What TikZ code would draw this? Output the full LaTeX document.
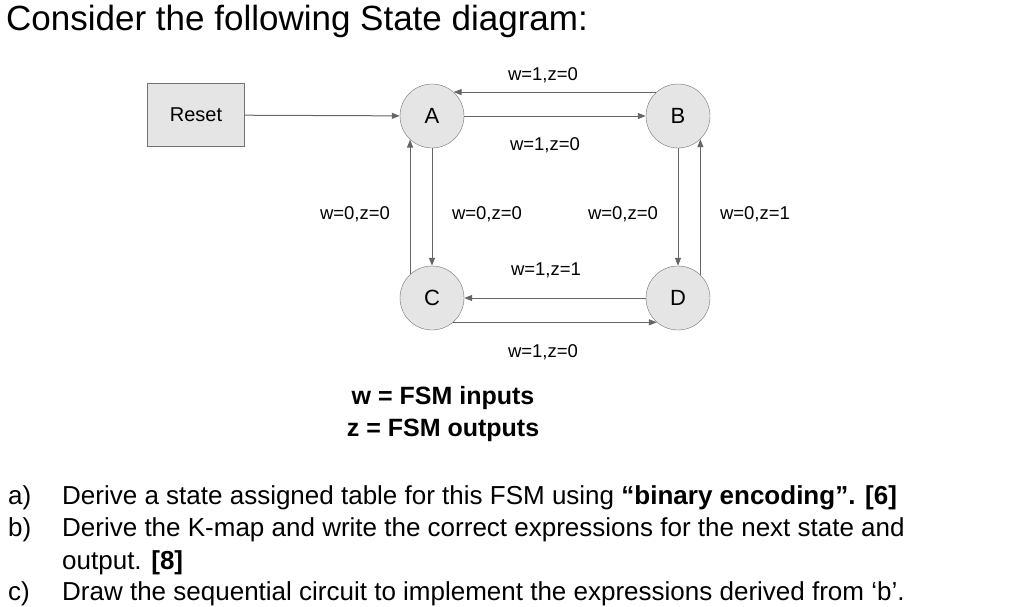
\documentclass[tikz,border=0pt]{standalone}
\usepackage{fontspec}
\setmainfont{Liberation Sans}
\usetikzlibrary{arrows.meta,positioning}

\tikzset{
  state/.style={circle,draw=black!55,fill=black!10,minimum size=64pt,inner sep=0pt,font=\fontsize{22}{26}\selectfont},
  trans/.style={draw=black!60,line width=1pt,-{Triangle[length=8pt,width=6pt]}},
  lbl/.style={font=\fontsize{18.5}{22}\selectfont},
  txt/.style={font=\fontsize{26}{31}\selectfont,anchor=base west,inner sep=0pt}
}

\begin{document}
\begin{tikzpicture}[x=1pt,y=-1pt]
\useasboundingbox (0,0) rectangle (1019,606);

\node[anchor=base west,inner sep=0pt,font=\fontsize{35}{42}\selectfont] (title) at (6,30) {Consider the following State diagram:};

\node[draw=black!55,fill=black!10,minimum width=97pt,minimum height=63pt,font=\fontsize{20}{24}\selectfont] (reset) at (196,115) {Reset};

\node[state] (A) at (432,116) {A};
\node[state] (B) at (678,116) {B};
\node[state] (C) at (432,298) {C};
\node[state] (D) at (678,298) {D};

\draw[trans] (reset) -- (A);

% A <-> B
\draw[trans] (B.132) -- (A.48);
\draw[trans] (A) -- (B);
% A <-> C
\draw[trans] (C.133) -- (A.227);
\draw[trans] (A) -- (C);
% B <-> D
\draw[trans] (B) -- (D);
\draw[trans] (D.46) -- (B.314);
% C <-> D
\draw[trans] (D) -- (C);
\draw[trans] (C.311) -- (D.229);

\node[lbl] (l1) at (543,75) {w=1,z=0};
\node[lbl] (l2) at (545,145) {w=1,z=0};
\node[lbl] (l3) at (355,214) {w=0,z=0};
\node[lbl] (l4) at (487,214) {w=0,z=0};
\node[lbl] (l5) at (623,214) {w=0,z=0};
\node[lbl] (l6) at (755,214) {w=0,z=1};
\node[lbl] (l7) at (546,270) {w=1,z=1};
\node[lbl] (l8) at (543,352) {w=1,z=0};

\node[font=\bfseries\fontsize{25}{32}\selectfont,align=center] (legend) at (443,414) {w = FSM inputs\\z = FSM outputs};

\node[txt] (qa) at (8,504) {a)};
\node[txt] at (62,504) {Derive a state assigned table for this FSM using \textbf{``binary encoding''. [6]}};
\node[txt] (qb) at (8,536) {b)};
\node[txt] at (62,536) {Derive the K-map and write the correct expressions for the next state and};
\node[txt] at (62,569) {output. \textbf{[8]}};
\node[txt] (qc) at (8,600) {c)};
\node[txt] at (62,600) {Draw the sequential circuit to implement the expressions derived from `b'.};
\end{tikzpicture}
\end{document}
